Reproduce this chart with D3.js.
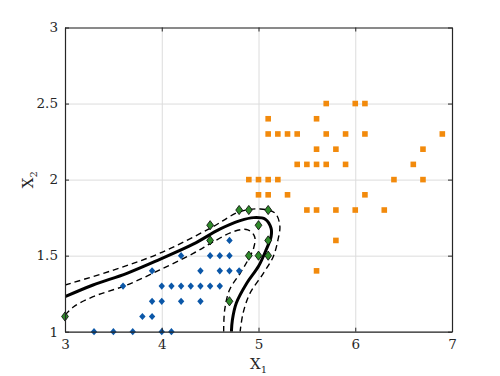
<!DOCTYPE html>
<html>
<head>
<meta charset="utf-8">
<script src="https://cdn.jsdelivr.net/npm/d3@7"></script>
<style>
  body { margin: 0; background: #fff; }
  svg text { font-family: "DejaVu Serif", serif; fill: #262626; }
</style>
</head>
<body>
<svg width="500" height="376"></svg>
<script>
// class 1 (blue diamonds)
const blueX = [4.7, 4.2, 4.5, 4.6, 4.7, 3.9, 4.4, 4.6, 4.7, 4.8, 3.6, 4.0, 4.1, 4.2, 4.3, 4.4, 4.5, 4.6, 3.9, 4.0, 4.2, 4.4, 3.8, 3.9, 3.3, 3.5, 3.7, 4.0, 4.1];
const blueY = [1.6, 1.5, 1.5, 1.5, 1.5, 1.4, 1.4, 1.4, 1.4, 1.4, 1.3, 1.3, 1.3, 1.3, 1.3, 1.3, 1.3, 1.3, 1.2, 1.2, 1.2, 1.2, 1.1, 1.1, 1.0, 1.0, 1.0, 1.0, 1.0];

// class 2 (orange squares)
const orangeX = [5.7, 6.0, 6.1, 5.1, 5.6, 5.1, 5.2, 5.3, 5.4, 5.7, 5.9, 6.1, 6.9, 5.6, 5.8, 6.7, 5.4, 5.5, 5.6, 5.7, 5.9, 6.6, 4.9, 5.0, 5.1, 5.2, 6.4, 6.7, 5.0, 5.1, 5.3, 6.1, 5.5, 5.6, 5.8, 6.0, 6.3, 5.8, 5.6];
const orangeY = [2.5, 2.5, 2.5, 2.4, 2.4, 2.3, 2.3, 2.3, 2.3, 2.3, 2.3, 2.3, 2.3, 2.2, 2.2, 2.2, 2.1, 2.1, 2.1, 2.1, 2.1, 2.1, 2.0, 2.0, 2.0, 2.0, 2.0, 2.0, 1.9, 1.9, 1.9, 1.9, 1.8, 1.8, 1.8, 1.8, 1.8, 1.6, 1.4];

// support vectors (green diamonds)
const svX = [4.8, 4.9, 5.1, 4.5, 5.0, 4.5, 5.1, 4.9, 5.0, 5.1, 4.7, 3.0];
const svY = [1.8, 1.8, 1.8, 1.7, 1.7, 1.6, 1.6, 1.5, 1.5, 1.5, 1.2, 1.1];

// decision boundary and margins
const boundX = [3.0, 3.29, 3.64, 3.98, 4.33, 4.60, 4.81, 4.95, 5.07, 5.13, 5.13, 5.08, 5.0, 4.88, 4.77, 4.73, 4.72];
const boundY = [1.23, 1.307, 1.384, 1.476, 1.577, 1.674, 1.73, 1.75, 1.74, 1.68, 1.625, 1.54, 1.43, 1.32, 1.187, 1.077, 1.0];
const outerX = [3.0, 3.5, 3.98, 4.50, 4.81, 5.02, 5.17, 5.22, 5.2, 5.15, 5.05, 4.91, 4.84, 4.81];
const outerY = [1.307, 1.405, 1.516, 1.68, 1.79, 1.807, 1.78, 1.70, 1.60, 1.49, 1.384, 1.25, 1.12, 1.0];
const innerX = [3.0, 3.09, 3.29, 3.64, 3.98, 4.33, 4.53, 4.74, 4.89, 4.96, 4.95, 4.89, 4.81, 4.70, 4.65, 4.64];
const innerY = [1.11, 1.164, 1.23, 1.307, 1.406, 1.516, 1.59, 1.658, 1.67, 1.625, 1.55, 1.47, 1.384, 1.274, 1.14, 1.0];

const xTicks = [3, 4, 5, 6, 7];
const yTicks = [1, 1.5, 2, 2.5, 3];

const svg = d3.select('svg');
const pLeft = 65, pRight = 452, pTop = 27.5, pBottom = 331.7;

const x = d3.scaleLinear().domain([3, 7]).range([pLeft, pRight]);
const y = d3.scaleLinear().domain([1, 3]).range([pBottom, pTop]);

svg.append('clipPath').attr('id', 'clip')
    .append('rect')
    .attr('x', pLeft).attr('y', pTop)
    .attr('width', pRight - pLeft).attr('height', pBottom - pTop);

// grid
svg.append('g')
    .attr('transform', `translate(0, ${pBottom})`)
    .call(d3.axisBottom(x).tickValues(xTicks).tickSize(-(pBottom - pTop)).tickFormat(''))
    .call(g => g.select('.domain').remove())
    .selectAll('line').attr('stroke', '#dcdcdc');
svg.append('g')
    .attr('transform', `translate(${pLeft}, 0)`)
    .call(d3.axisLeft(y).tickValues(yTicks).tickSize(-(pRight - pLeft)).tickFormat(''))
    .call(g => g.select('.domain').remove())
    .selectAll('line').attr('stroke', '#dcdcdc');

// data
const plot = svg.append('g').attr('clip-path', 'url(#clip)');
const diamond = (w, h) => `M0,${-h}L${w},0L0,${h}L${-w},0Z`;

const blue = blueX.map((v, i) => ({ x: v, y: blueY[i] }));
const orange = orangeX.map((v, i) => ({ x: v, y: orangeY[i] }));
const sv = svX.map((v, i) => ({ x: v, y: svY[i] }));

plot.selectAll('.o')
    .data(orange)
    .enter()
        .append('rect')
        .attr('x', d => x(d.x) - 2.8)
        .attr('y', d => y(d.y) - 2.8)
        .attr('width', 5.6)
        .attr('height', 5.6)
        .attr('fill', '#f28a0c');

svg.selectAll('.b')
    .data(blue)
    .enter()
        .append('path')
        .attr('d', diamond(3.2, 3.6))
        .attr('transform', d => `translate(${x(d.x)}, ${y(d.y)})`)
        .attr('fill', '#0b57a8');

const line = d3.line()
    .x(d => x(d[0]))
    .y(d => y(d[1]))
    .curve(d3.curveCatmullRom.alpha(0.5));

plot.append('path')
    .attr('d', line(boundX.map((v, i) => [v, boundY[i]])))
    .attr('fill', 'none').attr('stroke', '#000').attr('stroke-width', 3);
plot.append('path')
    .attr('d', line(outerX.map((v, i) => [v, outerY[i]])))
    .attr('fill', 'none').attr('stroke', '#000').attr('stroke-width', 1.4)
    .attr('stroke-dasharray', '6,4');
plot.append('path')
    .attr('d', line(innerX.map((v, i) => [v, innerY[i]])))
    .attr('fill', 'none').attr('stroke', '#000').attr('stroke-width', 1.4)
    .attr('stroke-dasharray', '6,4');

svg.selectAll('.sv')
    .data(sv)
    .enter()
        .append('path')
        .attr('d', diamond(3.4, 4.6))
        .attr('transform', d => `translate(${x(d.x)}, ${y(d.y)})`)
        .attr('fill', '#2f8a2a')
        .attr('stroke', '#000')
        .attr('stroke-width', 0.8);

// axes box + ticks
svg.append('g')
    .attr('transform', `translate(0, ${pBottom})`)
    .call(d3.axisBottom(x).tickValues(xTicks).tickSize(-4).tickSizeOuter(0).tickPadding(8).tickFormat(d3.format('d')));
svg.append('g')
    .attr('transform', `translate(${pLeft}, 0)`)
    .call(d3.axisLeft(y).tickValues(yTicks).tickSize(-4).tickSizeOuter(0).tickPadding(7).tickFormat(d => d));
svg.append('g')
    .attr('transform', `translate(0, ${pTop})`)
    .call(d3.axisTop(x).tickValues(xTicks).tickSize(-4).tickSizeOuter(0).tickFormat(''));
svg.append('g')
    .attr('transform', `translate(${pRight}, 0)`)
    .call(d3.axisRight(y).tickValues(yTicks).tickSize(-4).tickSizeOuter(0).tickFormat(''));

svg.selectAll('.domain').attr('stroke', '#262626').attr('stroke-width', 1.2);
svg.selectAll('.tick line').filter(function () { return this.getAttribute('stroke') !== '#dcdcdc'; })
    .attr('stroke', '#262626');
svg.selectAll('.tick text').attr('font-size', 13.5).attr('fill', '#262626');

svg.append('text')
    .attr('x', (pLeft + pRight) / 2).attr('y', 369)
    .attr('text-anchor', 'middle').attr('font-size', 15)
    .html('X<tspan font-size="10" dy="4">1</tspan>');
svg.append('text')
    .attr('transform', `translate(33, ${(pTop + pBottom) / 2}) rotate(-90)`)
    .attr('text-anchor', 'middle').attr('font-size', 15)
    .html('X<tspan font-size="10" dy="4">2</tspan>');
</script>
</body>
</html>
